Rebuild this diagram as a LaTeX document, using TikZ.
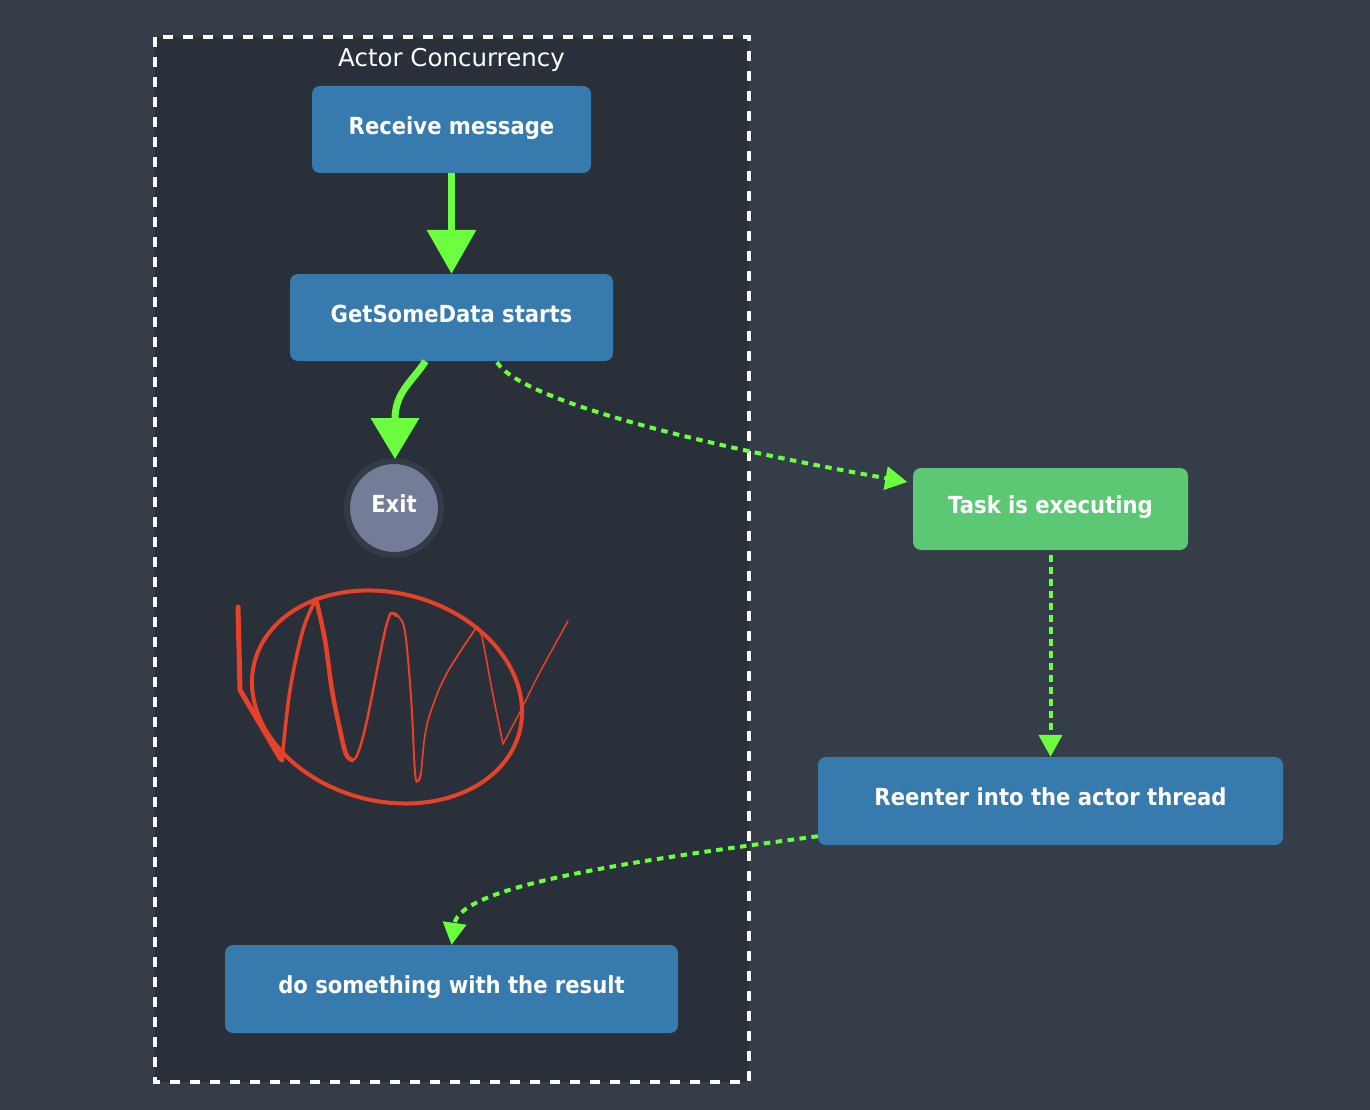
\documentclass[tikz,border=0pt]{standalone}
\usepackage{fontspec}
\setmainfont{DejaVu Sans}[FakeStretch=0.9]
\newfontfamily\titlefont{DejaVu Sans}
\usetikzlibrary{arrows.meta,calc}
\definecolor{bgout}{HTML}{353E48}
\definecolor{clusterbg}{HTML}{2A3039}
\definecolor{nodeblue}{HTML}{377AAD}
\definecolor{nodegreen}{HTML}{5DC873}
\definecolor{exitfill}{HTML}{737D97}
\definecolor{exitring}{HTML}{333B46}
\definecolor{arrowgreen}{HTML}{6CFF40}
\definecolor{scribred}{HTML}{E8412A}
\tikzset{
  box/.style={rectangle, rounded corners=8pt, fill=nodeblue, text=white,
    font=\fontsize{23.5}{28}\selectfont\bfseries, text height=17pt, text depth=7.5pt, inner sep=0pt},
  greenbox/.style={box, fill=nodegreen},
  solidarrow/.style={draw=arrowgreen, line width=7pt, -{Triangle[length=44pt,width=48pt]}},
  dotarrow/.style={draw=arrowgreen, line width=4pt, dash pattern=on 6.5pt off 5.5pt, -{Triangle[length=22pt,width=23pt]}},
  scrib/.style={draw=scribred, line cap=round, line join=round},
}
\begin{document}
\begin{tikzpicture}[x=1pt,y=-1pt]
\useasboundingbox (0,0) rectangle (1370,1110);
\fill[bgout] (0,0) rectangle (1370,1110);
% cluster
\draw[white, line width=3.5pt, dash pattern=on 10pt off 10pt, fill=clusterbg] (155,37) rectangle (749,1082);
\node[font=\titlefont\fontsize{24.5}{28}\selectfont, text=white, anchor=base, inner sep=0pt] (title) at (451.5,67) {Actor Concurrency};

% nodes
\node[box, minimum width=279pt, minimum height=87pt] (rcv) at (451.5,129.5) {Receive message};
\node[box, minimum width=323pt, minimum height=87pt] (get) at (451.5,317.5) {GetSomeData starts};
\node[circle, fill=exitfill, draw=exitring, line width=6pt, minimum size=94pt, inner sep=0pt,
  text=white, font=\fontsize{23.5}{28}\selectfont\bfseries, text height=17pt, text depth=9pt] (exit) at (394,508) {Exit};
\node[greenbox, minimum width=275pt, minimum height=82pt] (task) at (1050.5,509) {Task is executing};
\node[box, minimum width=465pt, minimum height=88pt] (re) at (1050.5,801) {Reenter into the actor thread};
\node[box, minimum width=453pt, minimum height=88pt] (do) at (451.5,989) {do something with the result};

% connectors
\draw[solidarrow] (rcv.south) -- (get.north);
\draw[draw=arrowgreen, line width=7pt, -{Triangle[length=41pt,width=47pt]}]
  ($(get.south)+(-26,0)$) .. controls (412,382) and (395,392) .. ($(exit.north)+(1,1)$);
\draw[dotarrow] ($(get.south)+(45.5,1)$) .. controls (520,400) and (700,445) .. ($(task.west)+(-5.5,-27)$);
\draw[dotarrow] ($(task.south)+(0,5)$) -- (re.north);
\draw[dotarrow] ($(re.south west)+(0,-9)$) .. controls (640,860) and (460,885) .. (do.north);

% scribble
\draw[scrib, line width=4pt] plot[domain=0:360, samples=120, smooth cycle]
  ({387+137*cos(\x)*cos(15)-104*sin(\x)*sin(15)}, {697+137*cos(\x)*sin(15)+104*sin(\x)*cos(15)});
\draw[scrib, line width=5pt] (238,607) -- (240,690) -- (280,758) -- (282,760);
\draw[scrib, line width=3.5pt] plot[smooth, tension=0.6] coordinates {(282,760) (290,690) (303,630) (316,599)};
\draw[scrib, line width=4.5pt] plot[smooth, tension=0.6] coordinates {(316,599) (325,640) (332,690) (340,730) (346,754) (352,760)};
\draw[scrib, line width=2.5pt] plot[smooth, tension=0.6] coordinates {(346,754) (352,760) (358,753) (367,720) (383,640) (389,617) (392,613) (396,616)};
\draw[scrib, line width=2pt] plot[smooth, tension=0.6] coordinates {(389,617) (392,613) (398,616) (405,632) (411,697) (415,772) (418,781) (421,774)};
\draw[scrib, line width=1.7pt] plot[smooth, tension=0.6] coordinates {(418,781) (421,772) (425,735) (432,708) (447,673) (476,628)};
\draw[scrib, line width=1.6pt] plot[smooth, tension=0.5] coordinates {(476,628) (482,637) (492,690) (503,744)};
\draw[scrib, line width=1.5pt] plot[smooth, tension=0.5] coordinates {(503,744) (520,712) (540,672) (568,621)};
\end{tikzpicture}
\end{document}
